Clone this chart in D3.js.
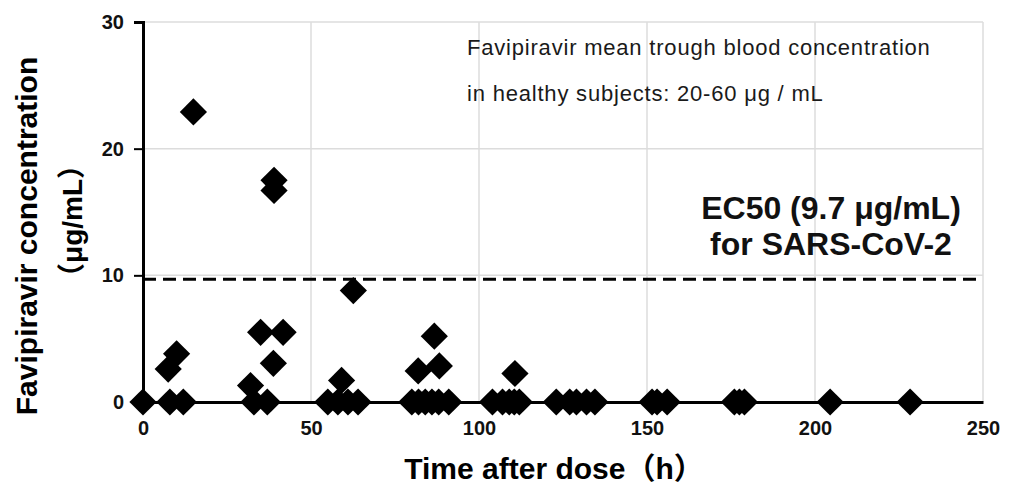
<!DOCTYPE html>
<html>
<head>
<meta charset="utf-8">
<style>
  body { margin: 0; background: #fff; }
  svg { display: block; }
  text { font-family: "Liberation Sans", Arial, "Noto Sans CJK JP", sans-serif; }
  .tick-label { font-size: 20px; font-weight: bold; }
  .axis-title { font-weight: bold; }
</style>
</head>
<body>
<svg width="1010" height="486"></svg>
<script src="https://d3js.org/d3.v7.min.js"></script>
<script>
  // time after dose (h) and favipiravir concentration (ug/mL)
  var timeH = [0, 8, 12, 7.5, 10, 15,
               32, 33, 37, 35, 38.8, 41.7, 39, 39,
               55, 58, 61, 64, 59.1, 62.6,
               80, 82, 84, 86, 88, 91, 81.9, 88.2, 86.7,
               104, 107, 109, 110.5, 112, 110.7,
               123, 127, 129, 132, 134.5,
               151.5, 153, 156,
               176, 177.5, 179,
               204.5, 228.3];
  var conc = [0, 0, 0, 2.6, 3.8, 22.9,
              1.3, 0, 0, 5.5, 3.05, 5.5, 17.5, 16.7,
              0, 0, 0, 0, 1.7, 8.8,
              0, 0, 0, 0, 0, 0, 2.45, 2.85, 5.2,
              0, 0, 0, 0, 0, 2.25,
              0, 0, 0, 0, 0,
              0, 0, 0,
              0, 0, 0,
              0, 0];
  var xTicks = [0, 50, 100, 150, 200, 250];
  var yTicks = [0, 10, 20, 30];
  var ec50 = 9.7;
  var noteLines = ["Favipiravir mean trough blood concentration",
                   "in healthy subjects: 20-60 \u03bcg / mL"];
  var ecLines = ["EC50 (9.7 \u03bcg/mL)", "for SARS-CoV-2"];

  var svg = d3.select("svg");
  var margin = {left: 143, top: 22, right: 27, bottom: 84};
  var width = 1010 - margin.left - margin.right,
      height = 486 - margin.top - margin.bottom;

  var x = d3.scaleLinear().domain([0, 250]).range([0, width]);
  var y = d3.scaleLinear().domain([0, 30]).range([height, 0]);

  var g = svg.append("g")
    .attr("transform", "translate(" + margin.left + "," + margin.top + ")");

  // grid
  g.selectAll(".vgrid").data(xTicks.filter(function(d){ return d > 0; }))
    .enter().append("line")
    .attr("x1", x).attr("x2", x)
    .attr("y1", 0).attr("y2", height)
    .attr("stroke", "#dcdcdc").attr("stroke-width", 1.5);
  g.selectAll(".hgrid").data(yTicks.filter(function(d){ return d > 0; }))
    .enter().append("line")
    .attr("x1", 0).attr("x2", width)
    .attr("y1", y).attr("y2", y)
    .attr("stroke", "#dcdcdc").attr("stroke-width", 1.5);

  // EC50 dashed line
  g.append("line")
    .attr("x1", 0).attr("x2", width)
    .attr("y1", y(ec50)).attr("y2", y(ec50))
    .attr("stroke", "#000").attr("stroke-width", 3)
    .attr("stroke-dasharray", "13,7");

  // axes
  var xAxis = g.append("g")
    .attr("transform", "translate(0," + height + ")")
    .call(d3.axisBottom(x).tickValues(xTicks).tickSize(0).tickPadding(19));
  var yAxis = g.append("g")
    .call(d3.axisLeft(y).tickValues(yTicks).tickSize(9).tickPadding(10));
  [xAxis, yAxis].forEach(function(a) {
    a.attr("font-family", null).attr("font-size", null);
    a.select(".domain").attr("stroke", "#000").attr("stroke-width", 3);
    a.selectAll(".tick line").attr("stroke", "#000").attr("stroke-width", 2);
    a.selectAll(".tick text").attr("class", "tick-label").attr("fill", "#111");
  });
  yAxis.selectAll(".tick").filter(function(d){ return d === 0; }).select("line").remove();

  // points
  var pts = d3.range(timeH.length).map(function(i){ return [timeH[i], conc[i]]; });
  var diamond = d3.symbol().type(d3.symbolSquare).size(370);
  g.selectAll(".pt").data(pts).enter().append("path")
    .attr("d", diamond)
    .attr("transform", function(d){
      return "translate(" + x(d[0]) + "," + y(d[1]) + ") rotate(45)";
    })
    .attr("fill", "#000");

  // annotations
  g.selectAll(".note").data(noteLines).enter().append("text")
    .attr("x", 324).attr("y", function(d, i){ return 33 + i * 46; })
    .attr("font-size", 22).attr("letter-spacing", 0.8).attr("fill", "#1a1a1a")
    .text(function(d){ return d; });
  g.selectAll(".ec").data(ecLines).enter().append("text")
    .attr("x", 688).attr("y", function(d, i){ return 197 + i * 36; })
    .attr("text-anchor", "middle")
    .attr("font-size", 32).attr("font-weight", "bold").attr("fill", "#111")
    .text(function(d){ return d; });

  // axis titles
  svg.append("text").attr("class", "axis-title")
    .attr("x", 554).attr("y", 479).attr("text-anchor", "middle")
    .attr("font-size", 30)
    .text("Time after dose\uff08h\uff09");
  svg.append("text").attr("class", "axis-title")
    .attr("transform", "translate(37,236) rotate(-90)")
    .attr("text-anchor", "middle").attr("font-size", 30)
    .text("Favipiravir concentration");
  svg.append("text").attr("class", "axis-title")
    .attr("transform", "translate(82,221) rotate(-90)")
    .attr("text-anchor", "middle").attr("font-size", 28)
    .text("\uff08\u03bcg/mL\uff09");
</script>
</body>
</html>
